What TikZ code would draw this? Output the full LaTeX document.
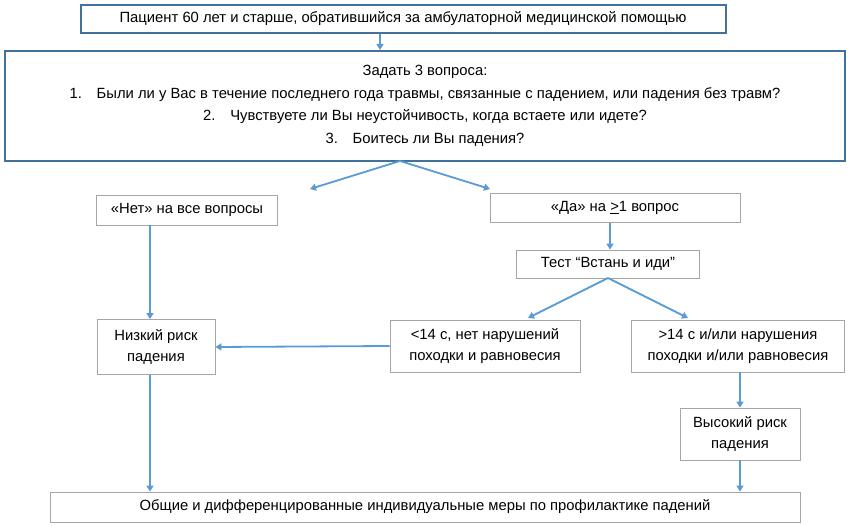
\documentclass[tikz,border=0pt]{standalone}
\usepackage{fontspec}
\setmainfont{Liberation Sans}
\usetikzlibrary{arrows.meta}
\definecolor{bl}{HTML}{5B9BD5}
\definecolor{bd}{HTML}{41719C}
\tikzset{
 bx/.style={draw=gray!70,line width=0.8pt,align=center,font=\fontsize{14.8}{21}\selectfont,inner sep=0pt},
 bbx/.style={bx,draw=bd,line width=2pt},
 ar/.style={draw=bl,line width=1.8pt,-{Triangle[length=6pt,width=7pt]}}
}
\begin{document}
\begin{tikzpicture}[x=1pt,y=-1pt]
\useasboundingbox (0,0) rectangle (849,526);
\node[bbx,minimum width=645,minimum height=28] (a) at (403,19) {Пациент 60 лет и старше, обратившийся за амбулаторной медицинской помощью};
\node[bbx,minimum width=840,minimum height=110,font=\fontsize{14.8}{22.5}\selectfont] (b) at (425,106) {Задать 3 вопроса:\\1.\quad Были ли у Вас в течение последнего года травмы, связанные с падением, или падения без травм?\\2.\quad Чувствуете ли Вы неустойчивость, когда встаете или идете?\\3.\quad Боитесь ли Вы падения?};
\node[bx,minimum width=181,minimum height=30] (c) at (187,210) {«Нет» на все вопросы};
\node[bx,minimum width=250,minimum height=29] (d) at (615,208) {«Да» на \underline{>}1 вопрос};
\node[bx,minimum width=183,minimum height=28] (e) at (608,264) {Тест “Встань и иди”};
\node[bx,minimum width=118,minimum height=55] (f) at (156,347) {Низкий риск\\падения};
\node[bx,minimum width=190,minimum height=52] (g) at (485,346) {<14 с, нет нарушений\\походки и равновесия};
\node[bx,minimum width=213,minimum height=52] (h) at (738,346) {>14 с и/или нарушения\\походки и/или равновесия};
\node[bx,minimum width=120,minimum height=52] (i) at (740,434) {Высокий риск\\падения};
\node[bx,minimum width=750,minimum height=30] (j) at (425,507) {Общие и дифференцированные индивидуальные меры по профилактике падений};
\draw[ar] (a.south -| 380,0) -- (b.north -| 380,0);
\coordinate (bs) at (400,161);
\draw[ar] (bs) -- (310,189);
\draw[ar] (bs) -- (490,189);
\draw[ar] (c.south -| 150,0) -- (f.north -| 150,0);
\draw[ar] (d.south -| 610,0) -- (e.north -| 610,0);
\coordinate (es) at (608,278);
\draw[ar] (es) -- (528,318);
\draw[ar] (es) -- (688,318);
\draw[ar] (g.west) -- (f.east);
\draw[ar] (h.south -| 740,0) -- (i.north);
\draw[ar] (f.south -| 150,0) -- (j.north -| 150,0);
\draw[ar] (i.south) -- (j.north -| 740,0);
\end{tikzpicture}
\end{document}
